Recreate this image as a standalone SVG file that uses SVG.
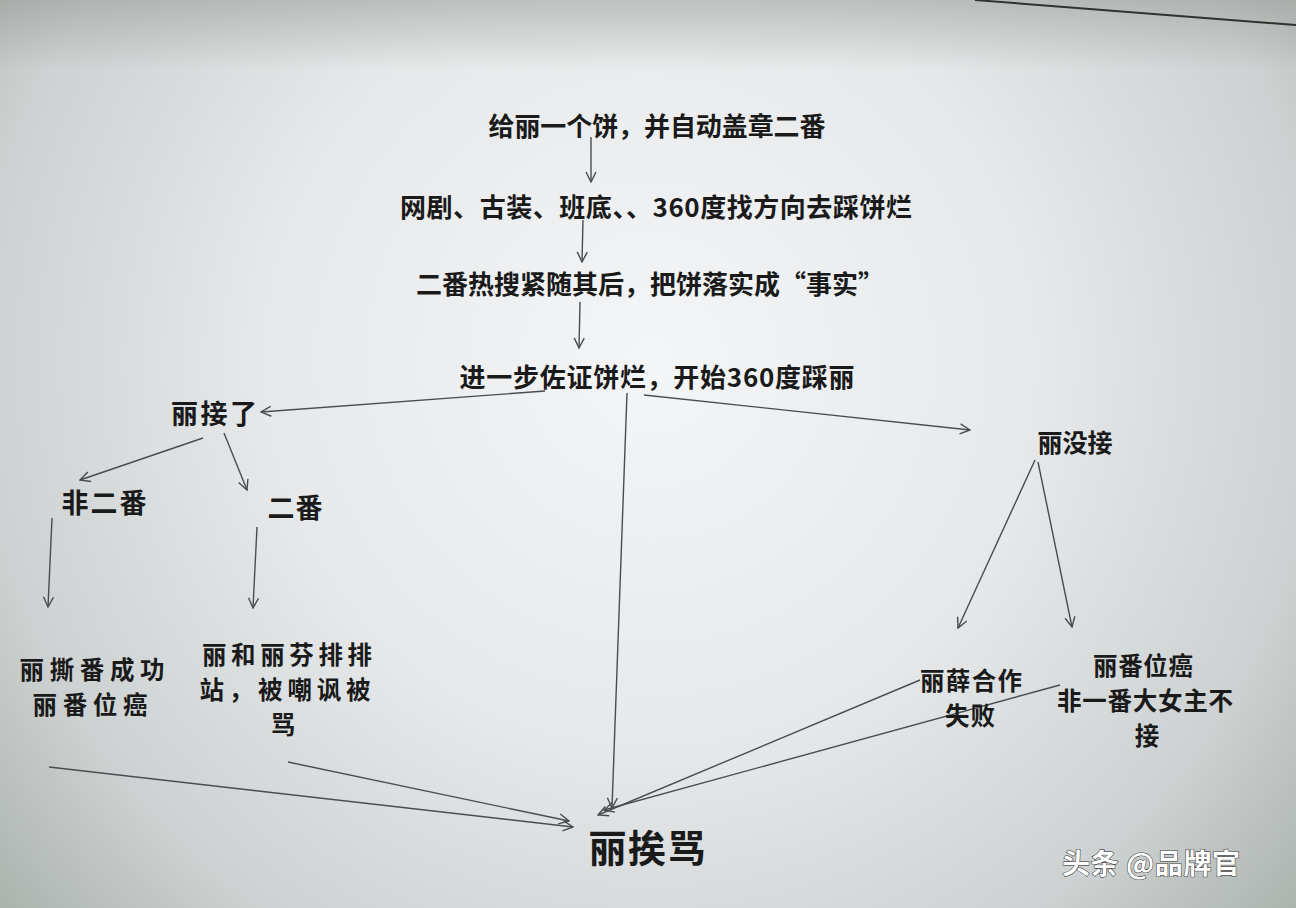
<svg xmlns="http://www.w3.org/2000/svg" width="1296" height="908" viewBox="0 0 1296 908">
<defs>
<radialGradient id="bg" cx="650" cy="360" r="860" gradientUnits="userSpaceOnUse">
<stop offset="0" stop-color="#f4f5f6"/>
<stop offset="0.45" stop-color="#e6e8e9"/>
<stop offset="0.78" stop-color="#cdd1d1"/>
<stop offset="1" stop-color="#aab1ac"/>
</radialGradient>
<linearGradient id="topshade" x1="0" y1="0" x2="0" y2="1">
<stop offset="0" stop-color="#8a8f8a" stop-opacity="0.45"/>
<stop offset="1" stop-color="#8a8f8a" stop-opacity="0"/>
</linearGradient>
<marker id="ah" viewBox="0 0 12 12" refX="11" refY="6" markerWidth="12" markerHeight="12" markerUnits="userSpaceOnUse" orient="auto">
<path d="M1,1 L11,6 L1,11" fill="none" stroke="#4a4d50" stroke-width="1.4"/>
</marker>
<style>
.t{font-family:"Noto Sans CJK SC","Liberation Serif",serif;font-weight:700;fill:#1a1a1a;font-size:26px;text-anchor:middle;dominant-baseline:central}
.s{font-size:24.5px}
.m{font-size:27px}
.n{font-size:25px}
.big{font-size:38px}
.c{fill:none;stroke:#4a4d50;stroke-width:1.4;marker-end:url(#ah)}
.wm{font-family:"Noto Sans CJK SC","Liberation Sans",sans-serif;font-weight:700;font-size:28px;fill:#ffffff;stroke:#2a2a2a;stroke-width:1;paint-order:stroke;dominant-baseline:central}
</style>
</defs>
<rect width="1296" height="908" fill="url(#bg)"/>
<rect width="1296" height="70" fill="url(#topshade)"/>
<path d="M975,0 L1296,25" stroke="#2f332c" stroke-width="2" fill="none"/>

<g id="connectors">
<line class="c" x1="591" y1="137" x2="591" y2="182"/>
<line class="c" x1="583" y1="220" x2="582" y2="262"/>
<line class="c" x1="580" y1="302" x2="579" y2="348"/>
<line class="c" x1="545" y1="391" x2="261" y2="412"/>
<line class="c" x1="627" y1="393" x2="612" y2="808"/>
<line class="c" x1="644" y1="395" x2="970" y2="430"/>
<line class="c" x1="203" y1="438" x2="80" y2="480"/>
<line class="c" x1="224" y1="433" x2="247" y2="490"/>
<line class="c" x1="52" y1="518" x2="48" y2="607"/>
<line class="c" x1="257" y1="527" x2="253" y2="608"/>
<line class="c" x1="1035" y1="460" x2="958" y2="628"/>
<line class="c" x1="1038" y1="462" x2="1072" y2="627"/>
<line class="c" x1="49" y1="767" x2="573" y2="827"/>
<line class="c" x1="288" y1="762" x2="569" y2="821"/>
<line class="c" x1="920" y1="680" x2="598" y2="815"/>
<line class="c" x1="1060" y1="685" x2="604" y2="810"/>
</g>

<g id="n1"><text class="t" x="657" y="124" textLength="337" lengthAdjust="spacing">给丽一个饼，并自动盖章二番</text></g>
<g id="n2"><text class="t" x="656" y="205" textLength="512" lengthAdjust="spacing">网剧、古装、班底、、360度找方向去踩饼烂</text></g>
<g id="n3"><text class="t" x="650" y="282" textLength="468" lengthAdjust="spacing">二番热搜紧随其后，把饼落实成“事实”</text></g>
<g id="n4"><text class="t" x="657" y="375" textLength="395" lengthAdjust="spacing">进一步佐证饼烂，开始360度踩丽</text></g>
<g id="n5"><text class="t m" x="214" y="412" textLength="86" lengthAdjust="spacing">丽接了</text></g>
<g id="n6"><text class="t m" x="104" y="501" textLength="85" lengthAdjust="spacing">非二番</text></g>
<g id="n7"><text class="t m" x="295" y="506" textLength="55" lengthAdjust="spacing">二番</text></g>
<g id="n8"><text class="t s" x="92" y="668" textLength="145" lengthAdjust="spacing">丽撕番成功</text><text class="t s" x="90" y="703" textLength="115" lengthAdjust="spacing">丽番位癌</text></g>
<g id="n9"><text class="t s" x="287" y="653" textLength="170" lengthAdjust="spacing">丽和丽芬排排</text><text class="t s" x="285" y="688" textLength="171" lengthAdjust="spacing">站，被嘲讽被</text><text class="t s" x="283" y="723">骂</text></g>
<g id="n10"><text class="t n" x="1075" y="441">丽没接</text></g>
<g id="n11"><text class="t s" x="971" y="679" textLength="102" lengthAdjust="spacing">丽薛合作</text><text class="t s" x="970" y="714" textLength="50" lengthAdjust="spacing">失败</text></g>
<g id="n12"><text class="t s" x="1143" y="664" textLength="100" lengthAdjust="spacing">丽番位癌</text><text class="t s" x="1145" y="699" textLength="176" lengthAdjust="spacing">非一番大女主不</text><text class="t s" x="1147" y="734">接</text></g>
<g id="n13"><text class="t big" x="647" y="845" textLength="117" lengthAdjust="spacing">丽挨骂</text></g>
<text class="wm" x="1062" y="862" textLength="178" lengthAdjust="spacing">头条 @品牌官</text>
</svg>
